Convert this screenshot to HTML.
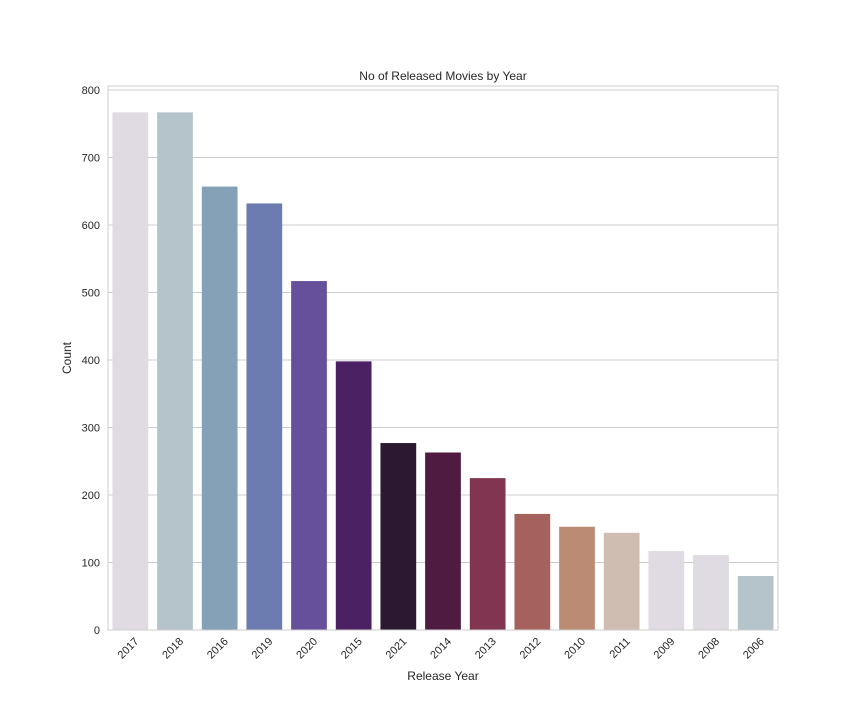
<!DOCTYPE html>
<html><head><meta charset="utf-8"><style>
body{margin:0;background:#fff;font-family:"Liberation Sans","DejaVu Sans",sans-serif;}
svg text{font-family:"Liberation Sans","DejaVu Sans",sans-serif;fill:#262626;}
</style></head><body>
<svg id="chart" width="864" height="720" xmlns="http://www.w3.org/2000/svg"></svg>
<script>
const categories=["2017","2018","2016","2019","2020","2015","2021","2014","2013","2012","2010","2011","2009","2008","2006"];
const counts=[767,767,657,632,517,398,277,263,225,172,153,144,117,111,80];
const colors=["#e0dae2","#b5c4cb","#84a1b8","#6c7bb0","#664f9b","#4b2163","#2c1830","#4f1b40","#823550","#a5625c","#bb8b73","#d0bdb1","#e0dae2","#e0dae2","#b5c4cb"];
const yTicks=[0,100,200,300,400,500,600,700,800];
const NS="http://www.w3.org/2000/svg";
const svg=document.getElementById('chart');
const L=108,R=778,T=86,B=630,yMax=806;
const y=v=>B-(v/yMax)*(B-T);
const slot=(R-L)/categories.length;
const x=i=>L+slot*i;
function mk(tag,attrs){const e=document.createElementNS(NS,tag);for(const k in attrs)e.setAttribute(k,attrs[k]);svg.appendChild(e);return e;}
yTicks.forEach(t=>{
  const g=mk('line',{x1:L,x2:R,y1:y(t),y2:y(t),stroke:'#cccccc','stroke-width':1});
  
  
  const tx=mk('text',{x:L-8,y:y(t)+4,'text-anchor':'end','font-size':11});
  tx.textContent=t;
  
  
});
categories.forEach((c,i)=>{
  const bw=slot*0.8;
  const r=mk('rect',{x:x(i)+slot*0.1,y:y(counts[i]),width:bw,height:B-y(counts[i]),fill:colors[i]});
  
  
  const cx=x(i)+slot/2+9;
  const tx=mk('text',{x:cx,y:B+12,'text-anchor':'end','font-size':11,transform:`rotate(-45 ${cx} ${B+12})`});
  tx.textContent=c;
  
  
});
const fr=mk('rect',{x:L,y:T,width:R-L,height:B-T,fill:'none',stroke:'#cccccc','stroke-width':1});


const ti=mk('text',{x:(L+R)/2,y:80,'text-anchor':'middle','font-size':12});
ti.textContent='No of Released Movies by Year';


const xl=mk('text',{x:(L+R)/2,y:680,'text-anchor':'middle','font-size':12});
xl.textContent='Release Year';


const yl=mk('text',{x:71,y:(T+B)/2,'text-anchor':'middle','font-size':12,transform:`rotate(-90 71 ${(T+B)/2})`});
yl.textContent='Count';


</script>
</body></html>
